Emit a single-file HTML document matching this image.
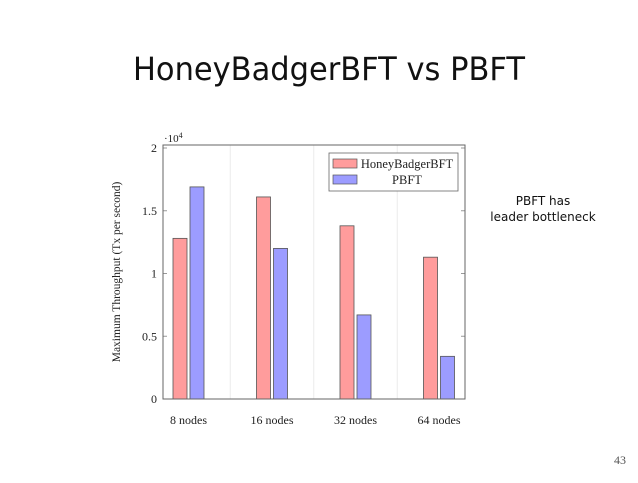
<!DOCTYPE html>
<html><head><meta charset="utf-8"><style>
body{margin:0;background:#fff;width:638px;height:478px;overflow:hidden}
svg text{font-family:"Liberation Serif",serif}
</style></head><body>
<svg width="638" height="478" viewBox="0 0 638 478">
<text x="329" y="80" text-anchor="middle" font-size="32" textLength="392" lengthAdjust="spacingAndGlyphs" style="font-family:'DejaVu Sans',sans-serif" fill="#111">HoneyBadgerBFT vs PBFT</text>
<g id="chart"></g>
<text x="543" y="205" text-anchor="middle" font-size="12" style="font-family:'DejaVu Sans',sans-serif" fill="#111">PBFT has</text>
<text x="543" y="221" text-anchor="middle" font-size="12" style="font-family:'DejaVu Sans',sans-serif" fill="#111">leader bottleneck</text>
<text x="620" y="464" text-anchor="middle" font-size="12" fill="#555">43</text>
</svg>
<script>
const categories=["8 nodes","16 nodes","32 nodes","64 nodes"];
const hbValues=[1.28,1.61,1.38,1.13];
const pbftValues=[1.69,1.20,0.67,0.34];
const yTicks=[0,0.5,1,1.5,2];
const yTickLabels=["0","0.5","1","1.5","2"];
const NS="http://www.w3.org/2000/svg";
const g=document.getElementById('chart');
const L=163,R=465,T=145,B=399,Y0=399,Y2=148;
function y(v){return Y0-(v/2)*(Y0-Y2);}
const first=L+25.5,last=R-26;
const step=(last-first)/(categories.length-1);
function xc(i){return first+step*i;}
function mk(tag,attrs){const e=document.createElementNS(NS,tag);for(const k in attrs)e.setAttribute(k,attrs[k]);g.appendChild(e);return e;}
for(let i=1;i<categories.length;i++){
  const x=first+step*(i-0.5);
  const l=mk('line',{x1:x,x2:x,y1:T,y2:B,stroke:'#ececec','stroke-width':1});
  
  
}
yTicks.forEach((t,i)=>{
  const yy=y(t);
  const a=mk('line',{x1:L,x2:L+4,y1:yy,y2:yy,stroke:'#999'});
  
  
  const b=mk('line',{x1:R-4,x2:R,y1:yy,y2:yy,stroke:'#999'});
  
  
  const tx=mk('text',{x:L-6,y:yy+4,'text-anchor':'end','font-size':12,fill:'#222'});
  tx.textContent=yTickLabels[i];
  
  
});
const bw=14;
categories.forEach((c,i)=>{
  const cx=xc(i);
  const h=mk('rect',{x:cx-bw-1.5,y:y(hbValues[i]),width:bw,height:Y0-y(hbValues[i]),fill:'#ff9c9c',stroke:'#555','stroke-width':0.8});
  
  
  const p=mk('rect',{x:cx+1.5,y:y(pbftValues[i]),width:bw,height:Y0-y(pbftValues[i]),fill:'#9c9cff',stroke:'#555','stroke-width':0.8});
  
  
  const tx=mk('text',{x:cx,y:424,'text-anchor':'middle','font-size':12,fill:'#222'});
  tx.textContent=c;
  
  
});
const box=mk('rect',{x:L,y:T,width:R-L,height:B-T,fill:'none',stroke:'#666','stroke-width':1});


const ex=mk('text',{x:L+1,y:T-3,'font-size':11,fill:'#222'});
ex.innerHTML='·10<tspan dy="-4" font-size="8">4</tspan>';


const yl=mk('text',{x:0,y:0,'text-anchor':'middle','font-size':11.5,fill:'#222',transform:'translate(120,272) rotate(-90)'});
yl.textContent='Maximum Throughput (Tx per second)';


const lg=mk('rect',{x:329,y:153,width:129,height:38,fill:'#fff',stroke:'#666','stroke-width':0.8});


const s1=mk('rect',{x:333,y:159,width:24,height:9,fill:'#ff9c9c',stroke:'#555','stroke-width':0.7});


const s2=mk('rect',{x:333,y:175,width:24,height:9,fill:'#9c9cff',stroke:'#555','stroke-width':0.7});


const t1=mk('text',{x:407,y:168,'text-anchor':'middle','font-size':12.5,fill:'#222'});
t1.textContent='HoneyBadgerBFT';


const t2=mk('text',{x:407,y:184,'text-anchor':'middle','font-size':12.5,fill:'#222'});
t2.textContent='PBFT';


</script>
</body></html>
